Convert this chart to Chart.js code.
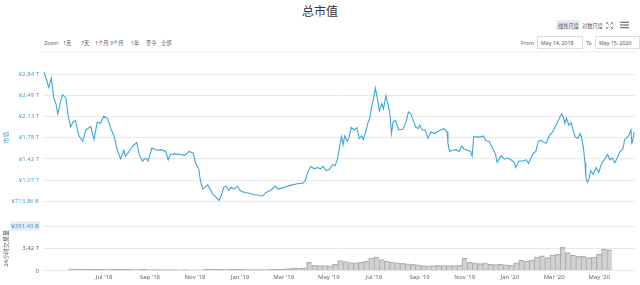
<!DOCTYPE html>
<html>
<head>
<meta charset="utf-8">
<script src="https://cdn.jsdelivr.net/npm/chart.js@4.4.1/dist/chart.umd.min.js"></script>
<style>
  html, body { margin: 0; padding: 0; background: #fff; }
  body { font-family: "Noto Sans", "Noto Sans CJK SC", sans-serif; }
  #wrap { position: relative; width: 640px; height: 285px; overflow: hidden; }
  .t { position: absolute; white-space: nowrap; font-size: 10.5px; color: #555; line-height: 1;
       transform: scale(0.5); transform-origin: 0 0; }
  #title { position: absolute; left: 0; width: 640px; top: 2px; text-align: center; font-size: 12px; color: #333; font-family: "Noto Sans CJK SC", sans-serif; }
  .box { position: absolute; border: 1px solid #ddd; }
  #sep { position: absolute; left: 40px; top: 51px; width: 595px; height: 1px; background: #f2f2f2; box-shadow: 0 1px 2px rgba(0,0,0,0.04); }
  canvas { position: absolute; left: 0; }
</style>
</head>
<body>
<div id="wrap">
  <div id="title">总市值</div>

  <div style="position:absolute;left:556px;top:20px;width:23px;height:10px;background:#e4e9f3;"></div>
  <div class="t" style="left:558px;top:22.5px;">线性尺度</div>
  <div class="t" style="left:582px;top:22.5px;">对数尺度</div>
  <svg style="position:absolute;left:606px;top:22px" width="7" height="7" viewBox="0 0 8 8">
    <path d="M0 0 L3 3 M0 0 L2 0 M0 0 L0 2 M8 0 L5 3 M8 0 L6 0 M8 0 L8 2 M0 8 L3 5 M0 8 L2 8 M0 8 L0 6 M8 8 L5 5 M8 8 L6 8 M8 8 L8 6" stroke="#666" stroke-width="0.9" fill="none"/>
  </svg>
  <svg style="position:absolute;left:620px;top:21px" width="9" height="8" viewBox="0 0 10 8">
    <path d="M0 1 H10 M0 4 H10 M0 7 H10" stroke="#555" stroke-width="1.2"/>
  </svg>

  <div class="t" style="left:44px;top:39.5px;color:#666;">Zoom</div>
  <div class="t" style="left:63px;top:39.5px;">1天</div>
  <div class="t" style="left:81px;top:39.5px;">7天</div>
  <div class="t" style="left:95px;top:39.5px;">1个月</div>
  <div class="t" style="left:110px;top:39.5px;">3个月</div>
  <div class="t" style="left:131px;top:39.5px;">1年</div>
  <div class="t" style="left:146px;top:39.5px;">至今</div>
  <div class="t" style="left:161px;top:39.5px;">全部</div>

  <div class="t" style="left:521px;top:39.5px;color:#666;">From</div>
  <div class="box" style="left:537px;top:36px;width:44px;height:11px;"></div>
  <div class="t" style="left:541px;top:39.5px;">May 14, 2018</div>
  <div class="t" style="left:586px;top:39.5px;color:#666;">To</div>
  <div class="box" style="left:595px;top:36px;width:43px;height:11px;"></div>
  <div class="t" style="left:599px;top:39.5px;">May 15, 2020</div>
  <div id="sep"></div>

  <canvas id="capChart" width="640" height="150" style="top:60px"></canvas>
  <canvas id="volChart" width="640" height="72" style="top:213px"></canvas>
</div>

<script>
// total market cap, trillions of CNY, by day counted from May 14, 2018
const capDays = [
  0, 6, 9, 12, 15, 17, 21, 23, 27, 30,
  33, 36, 39, 43, 48, 52, 58, 62, 66, 70,
  74, 79, 83, 87, 91, 95, 99, 101, 105, 110,
  115, 118, 122, 126, 129, 134, 139, 145, 151, 154,
  157, 163, 170, 174, 180, 185, 188, 192, 194, 197,
  201, 203, 206, 209, 213, 217, 220, 223, 226, 229,
  232, 236, 240, 243, 247, 252, 259, 265, 271, 275,
  281, 287, 290, 296, 302, 308, 314, 321, 324, 327,
  331, 335, 339, 343, 346, 350, 354, 358, 361, 364,
  366, 369, 371, 373, 376, 378, 381, 385, 388, 391,
  394, 396, 399, 402, 404, 407, 409, 411, 414, 416,
  419, 421, 424, 427, 429, 431, 433, 436, 440, 445,
  449, 452, 455, 458, 461, 464, 466, 469, 473, 476,
  480, 484, 488, 492, 496, 500, 501, 503, 507, 511,
  515, 518, 521, 525, 529, 531, 533, 538, 541, 545,
  548, 552, 556, 560, 562, 567, 571, 575, 579, 583,
  585, 589, 594, 598, 601, 604, 607, 610, 613, 616,
  620, 623, 627, 631, 635, 639, 642, 644, 646, 648,
  651, 654, 656, 659, 662, 665, 667, 669, 671, 672,
  674, 676, 678, 681, 685, 688, 692, 696, 699, 702,
  705, 708, 711, 714, 718, 720, 722, 725, 728, 729,
  730, 732
];
const capValues = [
  2.88, 2.62, 2.78, 2.45, 2.34, 2.18, 2.40, 2.50, 2.45, 2.15,
  1.96, 2.04, 2.07, 1.82, 1.72, 1.91, 1.97, 1.75, 2.04, 2.02,
  2.14, 2.10, 1.93, 1.80, 1.57, 1.43, 1.57, 1.47, 1.54, 1.64,
  1.70, 1.50, 1.39, 1.44, 1.39, 1.61, 1.57, 1.58, 1.55, 1.41,
  1.50, 1.51, 1.50, 1.48, 1.55, 1.52, 1.36, 1.25, 1.06, 0.92,
  0.97, 0.99, 0.92, 0.84, 0.79, 0.73, 0.82, 0.95, 0.97, 0.90,
  0.95, 0.92, 0.97, 0.90, 0.87, 0.86, 0.83, 0.82, 0.80, 0.86,
  0.90, 0.97, 0.92, 0.94, 0.97, 0.99, 1.01, 1.02, 1.06, 1.20,
  1.30, 1.26, 1.28, 1.26, 1.30, 1.23, 1.25, 1.33, 1.31, 1.42,
  1.58, 1.80, 1.66, 1.81, 1.72, 1.77, 1.95, 1.91, 1.95, 1.77,
  1.81, 1.75, 1.88, 2.04, 2.10, 2.34, 2.45, 2.61, 2.40, 2.23,
  2.35, 2.26, 2.48, 2.32, 2.18, 1.85, 2.04, 2.07, 1.91, 1.92,
  2.04, 2.21, 2.18, 2.07, 1.96, 1.93, 1.99, 1.91, 1.91, 1.77,
  1.88, 1.85, 1.88, 1.91, 1.93, 1.88, 1.69, 1.55, 1.57, 1.58,
  1.55, 1.64, 1.59, 1.57, 1.55, 1.47, 1.80, 1.79, 1.79, 1.81,
  1.73, 1.72, 1.61, 1.50, 1.37, 1.48, 1.42, 1.44, 1.41, 1.37,
  1.28, 1.39, 1.39, 1.41, 1.35, 1.44, 1.52, 1.55, 1.72, 1.74,
  1.70, 1.69, 1.82, 1.88, 1.99, 2.10, 2.18, 2.13, 2.02, 2.11,
  1.99, 2.03, 1.91, 1.79, 1.77, 1.85, 1.77, 1.61, 1.36, 1.12,
  1.03, 1.09, 1.23, 1.17, 1.28, 1.20, 1.36, 1.43, 1.50, 1.41,
  1.44, 1.36, 1.44, 1.54, 1.59, 1.74, 1.77, 1.81, 1.91, 1.69,
  1.72, 1.88
];

// 24h volume, trillions of CNY, one value per week starting May 14, 2018
const volValues = [
  0.30, 0.28, 0.25, 0.27, 0.24, 0.22, 0.23,
  0.20, 0.22, 0.21, 0.25, 0.22, 0.20, 0.19, 0.21, 0.18,
  0.20, 0.19, 0.18, 0.17, 0.18, 0.16, 0.17, 0.16, 0.15,
  0.16, 0.25, 0.28, 0.24, 0.22, 0.20, 0.22, 0.24, 0.21,
  0.20, 0.19, 0.20, 0.19, 0.20, 0.21, 0.24, 0.28,
  0.35, 0.38, 0.40, 0.45,
  1.30,
  0.85, 0.78, 0.80, 0.75,
  1.00, 1.55, 1.40, 1.25,
  1.20, 1.30, 1.45, 1.90,
  2.10, 1.70, 1.50, 1.35, 1.20,
  1.15, 1.05, 1.00, 0.90,
  0.80, 0.75, 0.78, 0.82, 0.80,
  0.78, 0.80, 0.85,
  1.90,
  1.30, 1.20, 1.10, 1.20,
  1.00, 0.95, 1.00, 0.90, 0.85,
  1.20, 1.60, 1.50, 1.65,
  2.10, 2.30, 2.00, 2.40,
  2.50, 3.60, 2.80, 2.40, 2.20,
  2.20, 2.00, 2.10, 2.50,
  3.30, 3.20
];

const monthTickDays = [48, 110, 171, 232, 291, 352, 413, 475, 536, 597, 657, 718];
const monthTickLabels = ["Jul '18", "Sep '18", "Nov '18", "Jan '19", "Mar '19", "May '19",
                         "Jul '19", "Sep '19", "Nov '19", "Jan '20", "Mar '20", "May '20"];

const capTickVals = [0.71386, 1.06925, 1.42464, 1.78003, 2.13542, 2.49081, 2.8462];
const capTickLabels = ['¥713.86 B', '¥1.07 T', '¥1.42 T', '¥1.78 T', '¥2.13 T', '¥2.49 T', '¥2.84 T'];

const volTickVals = [0, 3.42, 6.84];
const volTickLabels = ['0', '3.42 T', '¥351.43 B'];

const LAST_DAY = 733;
const AXIS_W = 44;
const fontFam = '"Noto Sans", "Noto Sans CJK SC", sans-serif';

const capPoints = capDays.map((d, i) => ({ x: d, y: capValues[i] }));
const volPoints = volValues.map((v, i) => ({ x: i * 7 + 3.5, y: v }));

new Chart(document.getElementById('capChart'), {
    type: 'line',
    data: {
        datasets: [{
            data: capPoints,
            borderColor: '#3ba6dc',
            borderWidth: 1.1,
            pointRadius: 0,
            tension: 0,
            fill: false,
            clip: false
        }]
    },
    options: {
        responsive: false,
        animation: false,
        devicePixelRatio: 1,
        layout: { padding: { top: 14, bottom: 5.5, right: 5, left: 0 } },
        plugins: { legend: { display: false }, tooltip: { enabled: false } },
        scales: {
            x: {
                type: 'linear',
                min: 0,
                max: LAST_DAY,
                display: false
            },
            y: {
                min: capTickVals[0],
                max: capTickVals[capTickVals.length - 1],
                afterBuildTicks: (scale) => {
                    scale.ticks = capTickVals.map(v => ({ value: v }));
                },
                afterFit: (scale) => { scale.width = AXIS_W; },
                grid: { color: '#e9e9e9', drawTicks: false },
                border: { display: false },
                ticks: {
                    padding: 5,
                    color: '#4da3d8',
                    font: { family: fontFam, size: 6 },
                    callback: (v, i) => capTickLabels[i]
                },
                title: {
                    display: true,
                    text: '市值',
                    color: '#4da3d8',
                    padding: { top: 3, bottom: 0 },
                    font: { family: fontFam, size: 6 }
                }
            }
        }
    }
});

new Chart(document.getElementById('volChart'), {
    type: 'bar',
    data: {
        datasets: [{
            data: volPoints,
            backgroundColor: 'rgba(165,165,165,0.5)',
            borderColor: 'rgba(120,120,120,0.55)',
            borderWidth: { left: 0.6, right: 0, top: 0.6, bottom: 0 },
            categoryPercentage: 1,
            barPercentage: 1
        }]
    },
    options: {
        responsive: false,
        animation: false,
        devicePixelRatio: 1,
        layout: { padding: { top: 13, bottom: 1, right: 5, left: 0 } },
        plugins: { legend: { display: false }, tooltip: { enabled: false } },
        scales: {
            x: {
                type: 'linear',
                min: 0,
                max: LAST_DAY,
                afterBuildTicks: (scale) => {
                    scale.ticks = monthTickDays.map(d => ({ value: d }));
                },
                grid: { display: false, drawTicks: false },
                border: { display: false },
                ticks: {
                    padding: 3,
                    maxRotation: 0,
                    autoSkip: false,
                    color: '#666',
                    font: { family: fontFam, size: 6 },
                    callback: (v, i) => monthTickLabels[i]
                }
            },
            y: {
                min: volTickVals[0],
                max: volTickVals[volTickVals.length - 1],
                afterBuildTicks: (scale) => {
                    scale.ticks = volTickVals.map(v => ({ value: v }));
                },
                afterFit: (scale) => { scale.width = AXIS_W; },
                grid: { color: '#e9e9e9', drawTicks: false },
                border: { display: false },
                ticks: {
                    padding: 5,
                    color: (ctx) => ctx.index === 2 ? '#3f95d2' : '#666',
                    showLabelBackdrop: (ctx) => ctx.index === 2,
                    backdropColor: '#e3eef8',
                    backdropPadding: 1,
                    font: { family: fontFam, size: 6 },
                    callback: (v, i) => volTickLabels[i]
                },
                title: {
                    display: true,
                    text: '24小时交易量',
                    color: '#555',
                    padding: { top: 3, bottom: 0 },
                    font: { family: fontFam, size: 6 }
                }
            }
        }
    }
});
</script>
</body>
</html>
